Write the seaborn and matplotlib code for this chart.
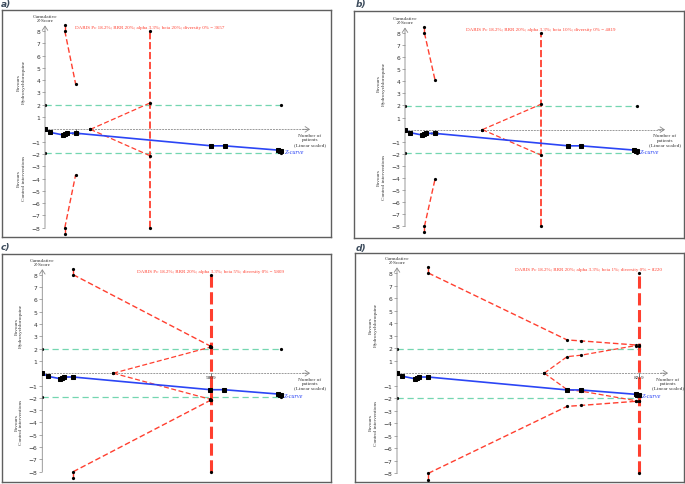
import pandas as pd
import seaborn as sns
import matplotlib.pyplot as plt

# Cumulative patients and cumulative Z-score of the trials (same in all panels)
trial_patients = [0, 185, 620, 690, 760, 1065, 5790, 6250, 8120, 8180, 8219]
z_curve = [0, -0.25, -0.45, -0.36, -0.31, -0.31, -1.34, -1.34, -1.69, -1.73, -1.78]

# one entry per panel a) .. d)
panel_names = ["a)", "b)", "c)", "d)"]
ris = [3657, 4819, 5809, 8220]
beta = ["20%", "10%", "5%", "1%"]
axis_marks = [1065, 1065, 5809, 8219]

# monitoring (alpha-spending) boundaries, upper half; lower half is mirrored
alpha_x = [[690, 690, 1065], [690, 690, 1065], [1065, 1065, 5790, 5809],
           [1065, 1065, 5790, 6250, 8120, 8219]]
alpha_z = [[8.5, 8.0, 3.7], [8.5, 8.0, 4.1], [8.5, 8.0, 2.2, 2.15],
           [8.5, 8.0, 2.65, 2.58, 2.25, 2.22]]
# futility wedge, upper half; lower half mirrored
futility_x = [[1580, 3657], [2742, 4819], [2446, 5790, 5809],
              [5012, 5790, 6250, 8120, 8219]]
futility_z = [[0, 2.15], [0, 2.1], [0, 2.12, 2.15], [0, 1.32, 1.43, 2.2, 2.2]]

Z_CRIT = 1.96
X_END = 9220

W, H = 685, 485
RED = "#ff3f2f"
BLUE = "#2b45f5"
GREEN = "#74d6b0"
SERIF = "Liberation Serif"

# layout in pixels: frame box, y-axis x, arrow x, pixel of z=8, pixel of z=-8
layout = [
    dict(frame=(2, 11, 331, 238), x0=45, x1=310, y8=32, ym8=228.7, letter=(1, 0)),
    dict(frame=(354, 12, 684, 239), x0=405, x1=665, y8=34, ym8=227.3, letter=(356, 0)),
    dict(frame=(2, 255, 331, 483), x0=42.3, x1=310, y8=275.7, ym8=472.7, letter=(1, 243)),
    dict(frame=(355, 254, 684, 483), x0=397, x1=668, y8=274, ym8=474.3, letter=(356, 244)),
]

sns.set_style("white")
plt.rcParams["font.family"] = ["DejaVu Sans"]

fig = plt.figure(figsize=(W / 100, H / 100), dpi=100)


def px_rect(x0, y0, x1, y1):
    return [x0 / W, 1 - y1 / H, (x1 - x0) / W, (y1 - y0) / H]


df_z = pd.DataFrame({"patients": trial_patients, "z": z_curve})

for i, lay in enumerate(layout):
    # grey frame around the panel
    fr = fig.add_axes(px_rect(*lay["frame"]))
    fr.set_xticks([])
    fr.set_yticks([])
    for s in fr.spines.values():
        s.set_color("#5f5f5f")
        s.set_linewidth(1.0)
    fig.text(lay["letter"][0] / W, 1 - lay["letter"][1] / H, panel_names[i],
             ha="left", va="top", fontsize=6.5, style="italic",
             fontweight="bold", color="#3c4b5c")

    unit = (lay["ym8"] - lay["y8"]) / 16
    top = lay["y8"] - 2 * unit
    bottom = lay["ym8"] + unit
    ax = fig.add_axes(px_rect(lay["x0"], top, lay["x1"], bottom))
    ax.set_xlim(0, X_END)
    ax.set_ylim(-9, 10)
    ax.patch.set_alpha(0)
    for s in ax.spines.values():
        s.set_visible(False)

    # axes
    ax.annotate("", xy=(0, 8.45), xytext=(0, -8),
                arrowprops=dict(arrowstyle="->,head_length=0.3,head_width=0.2",
                                color="#8a8a8a", lw=0.6, shrinkA=0, shrinkB=0))
    ax.plot([0, X_END - 60], [0, 0], color="#9a9a9a", lw=0.7, ls=(0, (2, 1)))
    ax.annotate("", xy=(X_END, 0), xytext=(X_END - 250, 0),
                arrowprops=dict(arrowstyle="->,head_length=0.3,head_width=0.2",
                                color="#8a8a8a", lw=0.6, shrinkA=0, shrinkB=0))
    ax.set_xticks([])
    ax.set_yticks([v for v in range(-8, 9) if v != 0])
    ax.tick_params(axis="y", left=True, length=2.5, width=0.5, color="#8a8a8a",
                   labelsize=4.3, labelcolor="#333333", pad=1)

    # conventional boundaries
    n_end = trial_patients[-1]
    for sgn in (1, -1):
        ax.plot([0, n_end], [sgn * Z_CRIT] * 2, color=GREEN, lw=0.9, ls=(0, (5, 3)))
        ax.plot([0, n_end], [sgn * Z_CRIT] * 2, ls="none", marker="o",
                ms=1.3, color="black")

    # required information size
    lw_ris = 1.3 if i < 2 else 2.2
    ax.plot([ris[i], ris[i]], [-8, 8], color=RED, lw=lw_ris, ls=(0, (4, 1.5)))
    ax.plot([ris[i], ris[i]], [-8, 8], ls="none", marker="o", ms=1.3, color="black")

    # monitoring and futility boundaries
    ax_x, ax_z = alpha_x[i], alpha_z[i]
    fu_x, fu_z = futility_x[i], futility_z[i]
    for sgn in (1, -1):
        zz = [sgn * v for v in ax_z]
        ax.plot(ax_x[:2], zz[:2], color=RED, lw=1.0)
        ax.plot(ax_x[1:], zz[1:], color=RED, lw=1.0, ls=(0, (4, 2)))
        ax.plot(ax_x, zz, ls="none", marker="o", ms=1.3, color="black")
        fz = [sgn * v for v in fu_z]
        ax.plot(fu_x, fz, color=RED, lw=0.9, ls=(0, (4, 2)))
        ax.plot(fu_x, fz, ls="none", marker="o", ms=1.3, color="black")

    # cumulative Z-curve
    sns.lineplot(data=df_z, x="patients", y="z", color=BLUE, lw=1.2,
                 marker="s", markersize=2.4, markerfacecolor="black",
                 markeredgecolor="black", estimator=None, sort=False, ax=ax,
                 zorder=5)
    ax.set_xlabel("")
    ax.set_ylabel("")
    ax.set_xlim(0, X_END)
    ax.set_ylim(-9, 10)

    # texts
    ax.plot([axis_marks[i]] * 2, [0, -0.25], color="#444444", lw=0.5)
    ax.text(axis_marks[i], -0.15, str(axis_marks[i]), ha="center", va="top",
            fontsize=3.8, family=SERIF, color="#333333")
    ax.text(min(ris[i], 6500), 8.3,
            f"DARIS Pc 18.2%; RRR 20%; alpha 3.3%; beta {beta[i]}; diversity 0% = {ris[i]}",
            ha="center", va="center", fontsize=3.6, family=SERIF, color=RED)
    ax.text(0, 8.72, "Cumulative\nZ-Score", ha="center", va="bottom",
            fontsize=3.8, family=SERIF, color="#333333", linespacing=1.1)
    ax.text(X_END, -0.3, "Number of\npatients\n(Linear scaled)", ha="center",
            va="top", fontsize=3.8, family=SERIF, color="#333333",
            linespacing=1.1, clip_on=False)
    ax.text(n_end + 120, z_curve[-1], "Z-curve", ha="left", va="center",
            fontsize=4.5, family=SERIF, style="italic", color=BLUE)
    ax.annotate("Favours\nHydroxychloroquine", xy=(0, 3.9), xytext=(-17, 0),
                textcoords="offset points", rotation=90, ha="center",
                va="center", fontsize=3.8, family=SERIF, color="#333333",
                linespacing=1.1)
    ax.annotate("Favours\nControl interventions", xy=(0, -3.9), xytext=(-17, 0),
                textcoords="offset points", rotation=90, ha="center",
                va="center", fontsize=3.8, family=SERIF, color="#333333",
                linespacing=1.1)

fig.savefig("out.png", dpi=100)
